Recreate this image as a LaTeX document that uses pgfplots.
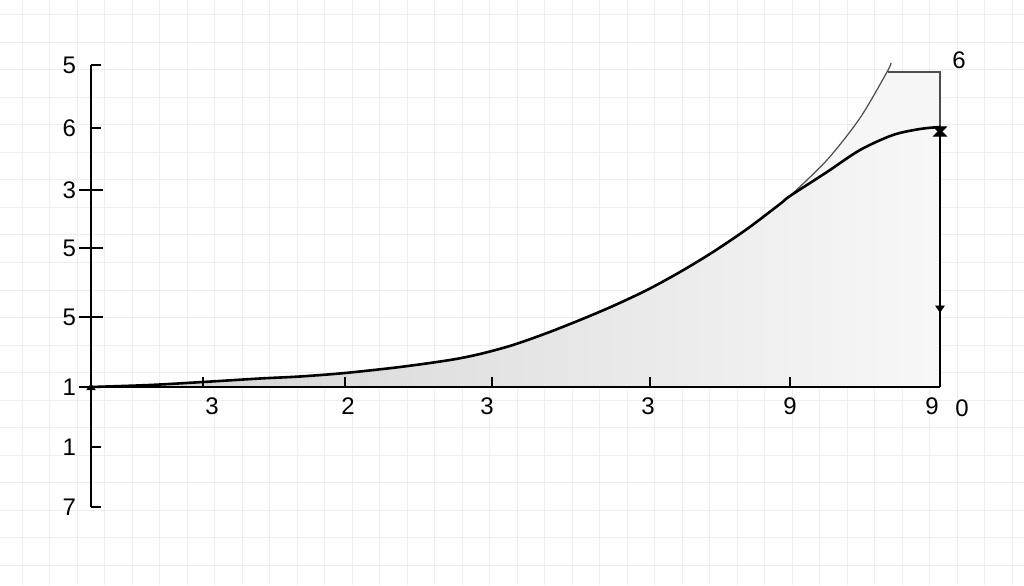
\documentclass[border=0pt]{standalone}
\usepackage{fontspec}
\setmainfont{Liberation Sans}
\usepackage{pgfplots}
\pgfplotsset{compat=1.18}

\begin{document}
\begin{tikzpicture}
  % faint background grid over the whole picture
  \begin{axis}[
    name=bg, at={(0,0)}, anchor=south west,
    width=512pt, height=292.5pt, scale only axis,
    xmin=0, xmax=1024, ymin=0, ymax=585,
    xtick={22,49.5,...,1020}, ytick={20,47.5,...,570},
    xticklabels={}, yticklabels={},
    major tick length=0pt,
    axis line style={draw=none},
    grid=major,
    major grid style={gray!13, line width=0.5pt},
  ]
  \end{axis}

  \begin{axis}[
    at={(45.5pt,39pt)}, anchor=south west,
    width=424.5pt, height=221pt, scale only axis,
    xmin=0, xmax=849, ymin=-120, ymax=322,
    axis x line=middle, axis y line=left,
    axis line style={-, line width=1.2pt, black},
    hide obscured x ticks=false, hide obscured y ticks=false,
    tick align=inside,
    tick style={black, line width=1.1pt},
    major tick length=5pt,
    xtick={112,254,401,559,699,849},
    xticklabels={},
    extra x ticks={121,257,396,557,699,841},
    extra x tick labels={3,2,3,3,9,9},
    extra x tick style={major tick length=0pt, xticklabel style={yshift=-2pt}},
    ytick={-120,-60,0,70,139,197,259,322},
    yticklabels={7,1,1,5,5,3,6,5},
    extra y ticks={0,70,139,197},
    extra y tick labels={{},{},{},{}},
    extra y tick style={tick align=center, major tick length=12pt},
    ticklabel style={font=\fontsize{12}{14}\selectfont},
    yticklabel style={xshift=-4pt},
    /pgf/number format/assume math mode=true,
    clip=false, axis on top,
  ]
    % light region under the upper envelope
    \addplot[draw=none, fill=gray!7] coordinates {
      (699,191) (736,227) (769,269) (796,315) (849,315) (849,260)
      (829,258) (802,252) (769,237) (736,215) (699,191)};
    % shaded area under the main curve
    \addplot[draw=none, smooth, left color=gray!36, right color=gray!6] coordinates {
      (0,0) (59,2) (112,5) (169,8.5) (209,10.5) (254,14) (309,20) (359,27)
      (389,33) (422,42) (456,54) (489,67) (522,81) (556,97) (589,115)
      (622,135) (656,158) (689,183) (699,191) (736,215) (769,237) (802,252)
      (829,258) (849,260)}
      \closedcycle;
    % thin upper branch
    \addplot[gray!60!black, line width=0.6pt, smooth] coordinates {
      (699,191) (736,227) (769,269) (796,315) (800,324)};
    % bracket at the top right
    \addplot[gray!60!black, line width=0.6pt] coordinates {
      (797,315) (849,315) (849,260)};
    % vertical arrow at the right end
    \addplot[black, line width=1.2pt] coordinates {(849,0) (849,256)};
    % main curve
    \addplot[black, line width=1.3pt, smooth] coordinates {
      (0,0) (59,2) (112,5) (169,8.5) (209,10.5) (254,14) (309,20) (359,27)
      (389,33) (422,42) (456,54) (489,67) (522,81) (556,97) (589,115)
      (622,135) (656,158) (689,183) (699,191) (736,215) (769,237) (802,252)
      (829,258) (849,260)};
    % arrow heads
    \addplot[only marks, mark=triangle*, mark size=2.2pt,
      mark options={xscale=1.7, black}] coordinates {(849,253)};
    \addplot[only marks, mark=triangle*, mark size=2.2pt,
      mark options={rotate=180, xscale=1.7, black}] coordinates {(849,258)};
    \addplot[only marks, mark=triangle*, mark size=2pt,
      mark options={rotate=180, xscale=1.2, black}] coordinates {(849,79)};
    \addplot[only marks, mark=triangle*, mark size=1.8pt,
      mark options={xscale=1.3, black}] coordinates {(0,-1)};
    \node[font=\fontsize{12}{14}\selectfont] at (axis cs:871,-21) {0};
    \node[font=\fontsize{12}{14}\selectfont] at (axis cs:868,327) {6};
  \end{axis}
  \pgfresetboundingbox
  \path[use as bounding box] (0,0) rectangle (512pt,292.5pt);
\end{tikzpicture}
\end{document}
